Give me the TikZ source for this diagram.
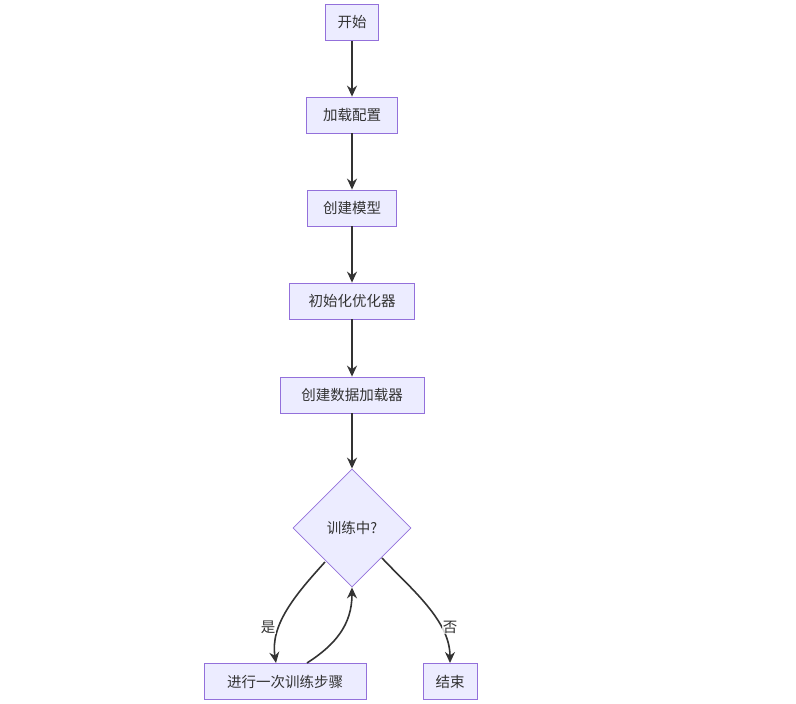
\documentclass[tikz,border=0pt]{standalone}
\usepackage{fontspec}
\setmainfont{Noto Sans CJK SC}
\usetikzlibrary{shapes.geometric,arrows.meta,calc}
\begin{document}
\begin{tikzpicture}[x=1pt,y=-1pt,
  box/.style={draw=boxline,fill=boxfill,line width=0.8pt,minimum height=36pt,inner xsep=8pt,text=txt,font=\fontsize{14.5}{17}\selectfont},
  dia/.style={diamond,draw=boxline,fill=boxfill,line width=0.8pt,minimum width=118pt,minimum height=118pt,inner sep=0pt,text=txt,font=\fontsize{14.5}{17}\selectfont},
  arr/.style={draw=lin,line width=1.6pt,-{Stealth[length=11pt,width=10pt]}},
  lab/.style={text=txt,font=\fontsize{14.5}{17}\selectfont,fill=white,fill opacity=0.8,text opacity=1,inner sep=1pt}]
\definecolor{boxfill}{HTML}{ECECFF}
\definecolor{boxline}{HTML}{9370DB}
\definecolor{lin}{HTML}{333333}
\definecolor{txt}{HTML}{333333}
\useasboundingbox (0,0) rectangle (796,704);
\node[box,minimum width=53pt] (a) at (352,22.5) {开始};
\node[box,minimum width=91pt] (b) at (352,115) {加载配置};
\node[box,minimum width=89pt] (c) at (352,208) {创建模型};
\node[box,minimum width=125pt] (d) at (352,301) {初始化优化器};
\node[box,minimum width=144pt] (e) at (352,395) {创建数据加载器};
\node[dia] (f) at (352,528) {训练中?};
\node[box,minimum width=162pt] (g) at (285,681.5) {进行一次训练步骤};
\node[box,minimum width=54pt] (h) at (450,681.5) {结束};
\coordinate (f1) at (325,562);
\coordinate (f2) at (382,558);
\coordinate (g1) at (276,663);
\coordinate (g2) at (307,663);
\coordinate (h1) at (450,663);
\draw[arr] (a) -- (b);
\draw[arr] (b) -- (c);
\draw[arr] (c) -- (d);
\draw[arr] (d) -- (e);
\draw[arr] (e) -- (f);
\draw[arr] (f1) .. controls (295,595) and (270,625) .. (g1);
\draw[arr] (g2) .. controls (335,645) and (352,625) .. (f.south);
\draw[arr] (f2) .. controls (410,588) and (450,620) .. (h1);
\node[lab] (l1) at (268,627) {是};
\node[lab] (l2) at (450,627) {否};
\end{tikzpicture}
\end{document}
